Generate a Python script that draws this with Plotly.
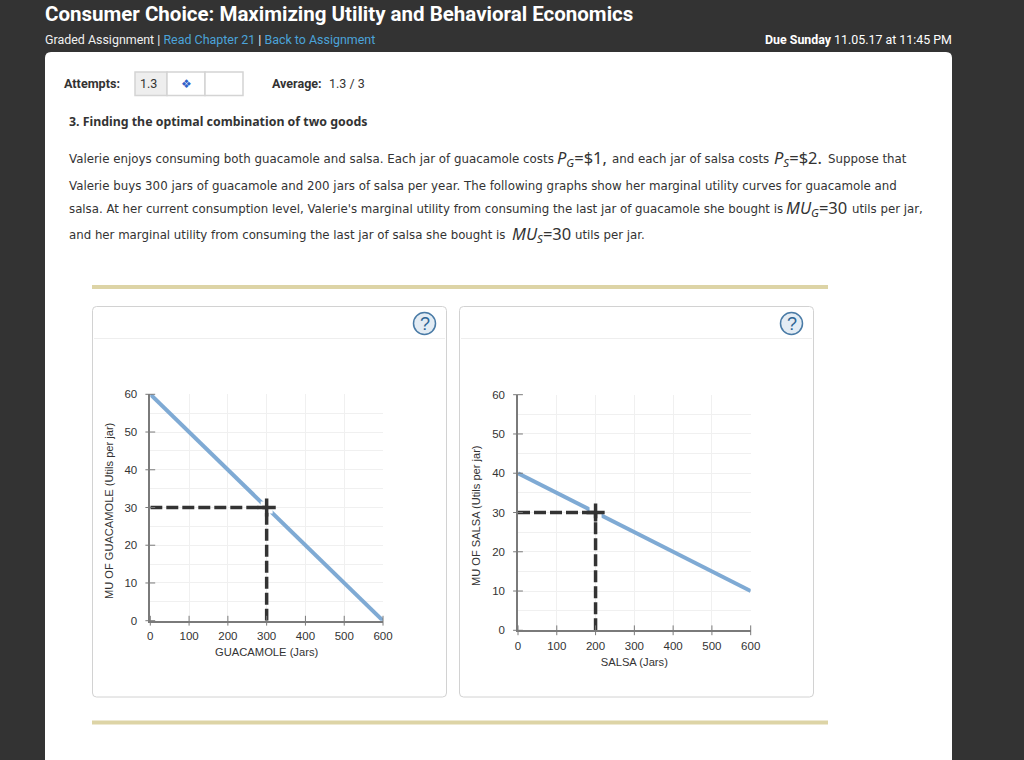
import plotly.graph_objects as go

# ---- data ----
guac_jars = [0, 600]
guac_mu = [60, 0]
salsa_jars = [0, 600]
salsa_mu = [40, 10]
guac_choice_x = 300
salsa_choice_x = 200
choice_mu = 30
x_ticks = [0, 100, 200, 300, 400, 500, 600]
y_ticks = [0, 10, 20, 30, 40, 50, 60]
y_grid = [5, 15, 25, 35, 45, 55]

W, H = 1024, 760
BLUE = "#7FAAD4"
DASH = "#333333"
AXIS = "#7a7a7a"
GRID = "#f0f0f0"
TXT = "#333333"
CHART_FONT = "Liberation Sans"
BODY_FONT = "DejaVu Sans"
HEAD_FONT = "Roboto"
MATH_FONT = "Noto Sans"


def px(x):
    return x / W


def py(y):
    return 1 - y / H


def rrect(x0, y0, x1, y1, r, fill, line=None, lw=1):
    p = (f"M {px(x0+r)} {py(y0)} L {px(x1-r)} {py(y0)} Q {px(x1)} {py(y0)} {px(x1)} {py(y0+r)} "
         f"L {px(x1)} {py(y1-r)} Q {px(x1)} {py(y1)} {px(x1-r)} {py(y1)} "
         f"L {px(x0+r)} {py(y1)} Q {px(x0)} {py(y1)} {px(x0)} {py(y1-r)} "
         f"L {px(x0)} {py(y0+r)} Q {px(x0)} {py(y0)} {px(x0+r)} {py(y0)} Z")
    return dict(type="path", xref="paper", yref="paper", path=p, fillcolor=fill,
                line=dict(color=line or "rgba(0,0,0,0)", width=lw), layer="below")


def box(x0, y0, x1, y1, fill, line=None, lw=1):
    return dict(type="rect", xref="paper", yref="paper", x0=px(x0), x1=px(x1), y0=py(y0), y1=py(y1),
                fillcolor=fill, line=dict(color=line or "rgba(0,0,0,0)", width=lw), layer="below")


def label(x, y, text, size=12, color=TXT, font=BODY_FONT, anchor="left", angle=0):
    return dict(xref="paper", yref="paper", x=px(x), y=py(y), text=text, showarrow=False,
                xanchor=anchor, yanchor="middle", align=anchor, borderpad=0, borderwidth=0,
                textangle=angle, font=dict(size=size, color=color, family=font))


fig = go.Figure()


def panel(xa, ya, xs, ys, cx):
    fig.add_trace(go.Scatter(x=xs, y=ys, mode="lines", xaxis=xa, yaxis=ya, showlegend=False,
                             line=dict(color=BLUE, width=4), hoverinfo="skip"))
    fig.add_trace(go.Scatter(x=[cx], y=[choice_mu], mode="markers", xaxis=xa, yaxis=ya, showlegend=False,
                             marker=dict(symbol="square", size=12, color="white"), hoverinfo="skip"))
    fig.add_trace(go.Scatter(x=[0, cx], y=[choice_mu, choice_mu], mode="lines", xaxis=xa, yaxis=ya,
                             showlegend=False, line=dict(color=DASH, width=3.5, dash="12px,4px"), hoverinfo="skip"))
    fig.add_trace(go.Scatter(x=[cx, cx], y=[0, choice_mu], mode="lines", xaxis=xa, yaxis=ya,
                             showlegend=False, line=dict(color=DASH, width=3.5, dash="12px,4px"), hoverinfo="skip"))
    fig.add_trace(go.Scatter(x=[cx], y=[choice_mu], mode="markers", xaxis=xa, yaxis=ya, showlegend=False,
                             marker=dict(symbol="cross-thin", size=13, line=dict(color=DASH, width=3.5)),
                             hoverinfo="skip"))
    fig.add_trace(go.Scatter(x=x_ticks, y=[0] * len(x_ticks), mode="markers", xaxis=xa, yaxis=ya,
                             showlegend=False, cliponaxis=False, hoverinfo="skip",
                             marker=dict(symbol="line-ns", size=7, line=dict(color=AXIS, width=1))))
    fig.add_trace(go.Scatter(x=[0] * len(y_ticks), y=y_ticks, mode="markers", xaxis=xa, yaxis=ya,
                             showlegend=False, cliponaxis=False, hoverinfo="skip",
                             marker=dict(symbol="line-ew", size=7, line=dict(color=AXIS, width=1))))


panel("x", "y", guac_jars, guac_mu, guac_choice_x)
panel("x2", "y2", salsa_jars, salsa_mu, salsa_choice_x)


def xaxis(l, r, anchor, title):
    return dict(domain=[px(l), px(r)], range=[0, 600], anchor=anchor, tickvals=x_ticks,
                showgrid=True, gridcolor=GRID, gridwidth=1, zeroline=False, showline=True,
                linecolor=AXIS, linewidth=1.5, ticks="outside", ticklen=4, tickcolor="rgba(0,0,0,0)",
                tickfont=dict(size=11.5, color=TXT, family=CHART_FONT),
                title=dict(text=title, standoff=7, font=dict(size=11.2, color=TXT, family=CHART_FONT)))


def yaxis(t, b, anchor):
    return dict(domain=[py(b), py(t)], range=[0, 60], anchor=anchor, tickvals=y_ticks,
                showgrid=True, gridcolor=GRID, gridwidth=1, zeroline=False, showline=True,
                linecolor=AXIS, linewidth=1.5, ticks="outside", ticklen=9, tickcolor="rgba(0,0,0,0)",
                minor=dict(tickvals=y_grid, showgrid=True, gridcolor=GRID, gridwidth=1, ticks=""),
                tickfont=dict(size=11.5, color=TXT, family=CHART_FONT))


shapes = [
    rrect(45, 52, 952, 790, 6, "white"),
    box(135, 72, 167, 95.5, "#eeeeee", "#d4d4d4", 1.5),
    box(167, 72, 205, 95.5, "white", "#d4d4d4", 1.5),
    box(205, 72, 243, 95.5, "white", "#d4d4d4", 1.5),
    box(92, 285, 828, 289, "#DDD4A6"),
    box(92, 720.5, 828, 724.5, "#DDD4A6"),
    rrect(92.5, 306.5, 446.5, 697, 4, "white", "#d2d2d2"),
    rrect(459.5, 306.5, 813.5, 697, 4, "white", "#d2d2d2"),
    box(94, 338, 445, 338.6, "#dddddd"),
    box(461, 338, 812, 338.6, "#dddddd"),
]
for cx_ in (424.5, 791.5):
    shapes.append(dict(type="circle", xref="paper", yref="paper", x0=px(cx_ - 11), x1=px(cx_ + 11),
                       y0=py(323.5 + 11), y1=py(323.5 - 11), fillcolor="#E3ECF4",
                       line=dict(color="#4A7BA6", width=1.5), layer="below"))

L = "#4BA3D9"
B = 11.83
B2 = 11.78
M = 16.5
anns = [
    label(45, 14, "<b>Consumer Choice: Maximizing Utility and Behavioral Economics</b>", 20.5, "white", HEAD_FONT),
    label(45, 40, 'Graded Assignment | <span style="color:%s">Read Chapter 21</span> | '
                  '<span style="color:%s">Back to Assignment</span>' % (L, L), 12.45, "#f0f0f0", HEAD_FONT),
    label(952, 40, "<b>Due Sunday</b> 11.05.17 at 11:45 PM", 12.4, "white", HEAD_FONT, "right"),
    label(64, 83.5, "<b>Attempts:</b>", 12.6, TXT, HEAD_FONT),
    label(148, 83.5, "1.3", 12.5, TXT, HEAD_FONT, "center"),
    label(186, 84, "❖", 12, "#2F62C9", BODY_FONT, "center"),
    label(272, 83.5, "<b>Average:</b>", 12.5, TXT, HEAD_FONT),
    label(329, 83.5, "1.3 / 3", 12.5, TXT, HEAD_FONT),
    label(69, 121, "<b>3. Finding the optimal combination of two goods</b>", 12.35, TXT, "Noto Sans"),

    label(69, 159, "Valerie enjoys consuming both guacamole and salsa. Each jar of guacamole costs", B),
    label(557, 158, "<i>P<sub>G</sub></i>=$1,", M, TXT, MATH_FONT),
    label(611.5, 159, "and each jar of salsa costs", B),
    label(774, 158, "<i>P<sub>S</sub></i>=$2.", M, TXT, MATH_FONT),
    label(828, 159, "Suppose that", B),
    label(69, 186, "Valerie buys 300 jars of guacamole and 200 jars of salsa per year. The following graphs show her marginal utility curves for guacamole and", B),
    label(69, 209, "salsa. At her current consumption level, Valerie's marginal utility from consuming the last jar of guacamole she bought is", B2),
    label(786, 208, "<i>MU<sub>G</sub></i>=30", M, TXT, MATH_FONT),
    label(852, 209, "utils per jar,", B2),
    label(69, 235, "and her marginal utility from consuming the last jar of salsa she bought is", B2),
    label(512, 234, "<i>MU<sub>S</sub></i>=30", M, TXT, MATH_FONT),
    label(575, 235, "utils per jar.", B2),
    label(424.5, 323.5, "?", 18, "#2F6594", CHART_FONT, "center"),
    label(791.5, 323.5, "?", 18, "#2F6594", CHART_FONT, "center"),
    label(109, 511, "MU OF GUACAMOLE (Utils per jar)", 11.1, TXT, CHART_FONT, "center", -90),
    label(476, 516, "MU OF SALSA (Utils per jar)", 11.1, TXT, CHART_FONT, "center", -90),
]

fig.update_layout(
    width=W, height=H, autosize=False,
    margin=dict(l=0, r=0, t=0, b=0, pad=0, autoexpand=False),
    paper_bgcolor="#333333", plot_bgcolor="white", showlegend=False,
    xaxis=xaxis(150.3, 383, "y", "GUACAMOLE (Jars)"),
    yaxis=yaxis(394.3, 620.7, "x"),
    xaxis2=xaxis(518, 750.7, "y2", "SALSA (Jars)"),
    yaxis2=yaxis(394.7, 630.3, "x2"),
    shapes=shapes, annotations=anns,
)

fig.write_html("out.html", config={"displayModeBar": False},
               post_script="document.body.style.margin='0';document.body.style.overflow='hidden';")
